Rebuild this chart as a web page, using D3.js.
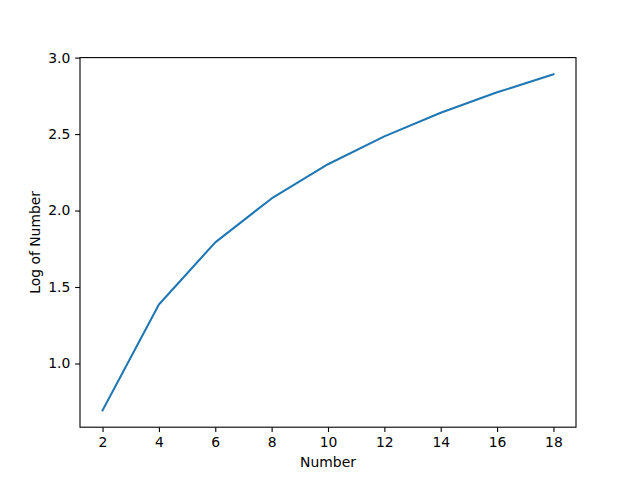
<!DOCTYPE html>
<html><head><meta charset="utf-8">
<script src="https://cdn.jsdelivr.net/npm/d3@7"></script>
<style>body{margin:0;background:#fff}svg{display:block}text{font-family:"DejaVu Sans",sans-serif}</style>
</head><body>
<svg id="c" width="640" height="480"></svg>
<script>
const numbers = [2, 4, 6, 8, 10, 12, 14, 16, 18];
const logValues = [0.693, 1.386, 1.792, 2.079, 2.303, 2.485, 2.639, 2.773, 2.890];
const xTicks = [2, 4, 6, 8, 10, 12, 14, 16, 18];
const yTicks = [1.0, 1.5, 2.0, 2.5, 3.0];

const svg = d3.select("#c");
const L = 80, R = 576, T = 57.6, B = 427.2;
const x = d3.scaleLinear().domain([1.2, 18.8]).range([L, R]);
const y = d3.scaleLinear().domain([0.5833, 3.0]).range([B, T]);
const fs = 13.9, tl = 4.86, pad = 4.86;

const line = d3.line().x((d, i) => x(numbers[i])).y(d => y(d));
svg.append("path").datum(logValues).attr("d", line)
  .attr("fill", "none").attr("stroke", "#1f77b4").attr("stroke-width", 2.08)
  .attr("stroke-linecap", "square").attr("stroke-linejoin", "round");

const xa = svg.append("g").attr("transform", `translate(0,${B})`)
  .call(d3.axisBottom(x).tickValues(xTicks).tickSize(tl).tickPadding(pad).tickFormat(d3.format("d")));
const ya = svg.append("g").attr("transform", `translate(${L},0)`)
  .call(d3.axisLeft(y).tickValues(yTicks).tickSize(tl).tickPadding(pad).tickFormat(d3.format(".1f")));
[xa, ya].forEach(a => {
  a.select(".domain").remove();
  a.selectAll("line").attr("stroke", "#000").attr("stroke-width", 1.1);
  a.selectAll("text").attr("font-size", fs).attr("fill", "#000").attr("font-family", "DejaVu Sans");
});

svg.append("rect").attr("x", L).attr("y", T).attr("width", R - L).attr("height", B - T)
  .attr("fill", "none").attr("stroke", "#000").attr("stroke-width", 1.1);

svg.append("text").attr("x", (L + R) / 2).attr("y", 467).attr("text-anchor", "middle")
  .attr("font-size", fs).text("Number");
svg.append("text").attr("transform", `translate(40,${(T + B) / 2}) rotate(-90)`)
  .attr("text-anchor", "middle").attr("font-size", fs).text("Log of Number");
</script>
</body></html>
